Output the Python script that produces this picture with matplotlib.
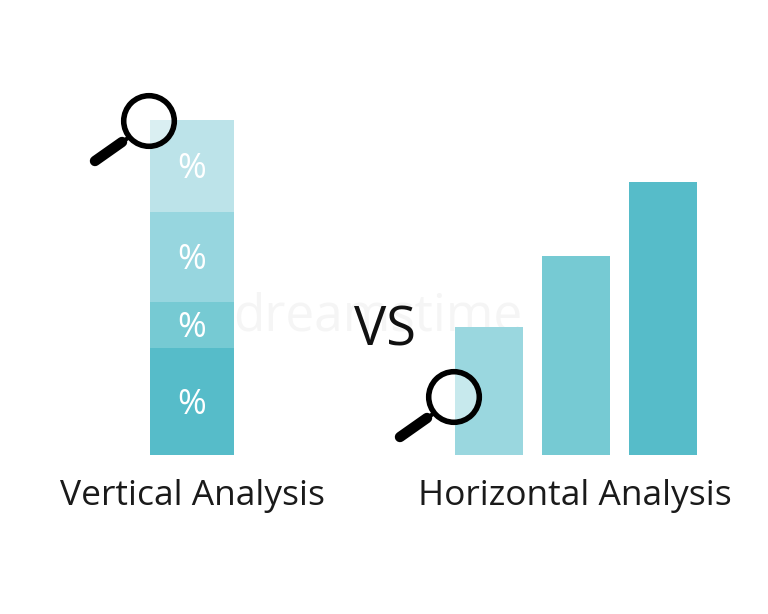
import matplotlib
matplotlib.use('Agg')
import matplotlib.pyplot as plt
from matplotlib.patches import Circle

plt.rcParams['font.family'] = ['Open Sans', 'DejaVu Sans']

# stacked column, bottom to top
stack_values = [107, 46, 90, 92]
stack_colors = ['#56BCC9', '#76CAD3', '#97D6DF', '#BCE3E9']
stack_labels = ['%', '%', '%', '%']

# three growing columns
bar_positions = [489, 576, 663]
bar_values = [128, 199, 273]
bar_colors = ['#9AD7DF', '#76CAD3', '#56BCC9']

titles = ['Vertical Analysis', 'Horizontal Analysis']


def magnifier(ax, cx, cy):
    ax.add_patch(Circle((cx, cy), 25.3, facecolor='white', alpha=0.45, edgecolor='none', zorder=5))
    ax.add_patch(Circle((cx, cy), 25.3, fill=False, edgecolor='black', linewidth=4.0, zorder=6))
    ax.plot([cx - 20, cx - 30], [cy - 16, cy - 24], color='black', lw=3, zorder=6, solid_capstyle='butt')
    ax.plot([cx - 27, cx - 54], [cy - 21, cy - 40], color='black', lw=7.5, zorder=6, solid_capstyle='round')


fig = plt.figure(figsize=(7.68, 6.14), dpi=100)
ax = fig.add_axes([0, 0, 1, 1])
ax.set_xlim(0, 768)
ax.set_ylim(-159, 455)
ax.axis('off')

bottom = 0
for val, col, lab in zip(stack_values, stack_colors, stack_labels):
    ax.bar(192, val, width=84, bottom=bottom, color=col)
    ax.text(192, bottom + val / 2 - 3, lab, color='white', fontsize=25, ha='center', va='center')
    bottom += val

ax.bar(bar_positions, bar_values, width=68, color=bar_colors)

ax.text(378, 138, 'dreamstime', fontsize=37, ha='center', va='center', color='#F5F5F5', zorder=0)
ax.text(385, 124, 'VS', fontsize=39, ha='center', va='center', color='#111111')

ax.text(192.5, -41, titles[0], fontsize=25.5, ha='center', va='center', color='#1a1a1a')
ax.text(575, -41, titles[1], fontsize=25.5, ha='center', va='center', color='#1a1a1a')

magnifier(ax, 149, 334)
magnifier(ax, 454, 58)

plt.savefig('out.png', dpi=100)
